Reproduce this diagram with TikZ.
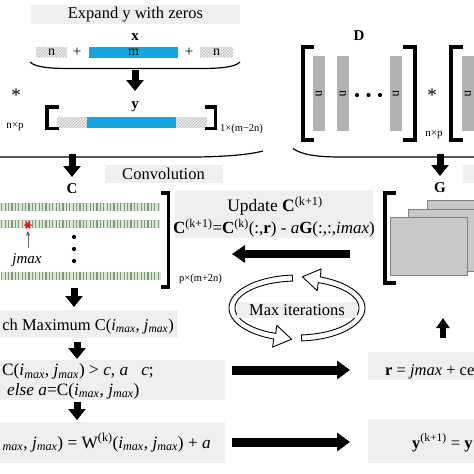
\documentclass[tikz,border=0pt]{standalone}
\usepackage{fontspec}
\setmainfont{Liberation Serif}
\usetikzlibrary{arrows.meta,patterns}
\definecolor{boxgray}{RGB}{239,239,239}
\definecolor{barblue}{RGB}{20,165,222}
\definecolor{hatchbg}{RGB}{236,236,236}
\definecolor{colgray}{RGB}{178,178,178}
\definecolor{ggray}{RGB}{200,200,200}
\definecolor{gedge}{RGB}{130,130,130}
\definecolor{rowbg}{RGB}{218,232,211}
\definecolor{rowstripe}{RGB}{128,152,128}
\newcommand\myfs[1]{\fontsize{#1}{#1}\selectfont}
\begin{document}
\begin{tikzpicture}[x=1pt,y=-1pt,
  gbox/.style={fill=boxgray, draw=none, inner sep=0pt},
  txt/.style={font=\myfs{16.5}, inner sep=0pt},
  btxt/.style={font=\myfs{17.3}, inner sep=0pt},
  mlab/.style={font=\myfs{15}\bfseries, inner sep=0pt},
  small/.style={font=\myfs{10.5}, inner sep=0pt},
  hatchbox/.style={preaction={fill=hatchbg}, pattern=north east lines, pattern color=gray!55, inner sep=0pt, font=\myfs{14}},
  bluebox/.style={fill=barblue, inner sep=0pt, font=\myfs{14}},
  colbox/.style={fill=colgray, inner sep=0pt, font=\myfs{13}, rotate=-90},
  gsheet/.style={fill=ggray, draw=gedge, line width=0.8pt},
  brk/.style={line width=3.5pt, line cap=butt, line join=miter},
  brace/.style={line width=1.2pt},
  blk/.style={line width=7pt, -{Triangle[length=11pt,width=17pt]}},
  bigarr/.style={line width=9pt, -{Triangle[length=13pt,width=18pt]}},
  ring/.style={fill=white, draw=black, line width=0.9pt, line join=round},
  rowbar/.style={fill=rowbg, draw=none, inner sep=0pt, minimum width=160pt, minimum height=8.5pt}
]
\useasboundingbox (0,0) rectangle (474,474);
\clip (0,0) rectangle (474,474);

% ---------- top left: expand y ----------
\node[gbox, minimum width=209pt, minimum height=19pt, font=\myfs{16.5}] (expand) at (135.5,14.5) {Expand y with zeros};
\node[mlab] (xlab) at (135,37) {x};
\node[hatchbox, minimum width=31pt, minimum height=10pt] (xn1) at (51.5,52) {n};
\node[txt, font=\myfs{15}] (plus1) at (77,52) {+};
\node[bluebox, minimum width=89pt, minimum height=11pt] (xm) at (133.5,52.5) {m};
\node[txt, font=\myfs{15}] (plus2) at (189,52) {+};
\node[hatchbox, minimum width=33pt, minimum height=10pt] (xn2) at (216.5,52) {n};
\draw[brace] (30,62) .. controls (35,67) and (48,68.5) .. (70,68.5) -- (200,68.5) .. controls (222,68.5) and (235,67) .. (240,62);
\coordinate (a1s) at (135,70); \coordinate (a1e) at (135,91);
\draw[blk] (a1s) -- (a1e);

\node[txt, font=\myfs{19}] (ast1) at (16,95) {*};
\node[txt, font=\myfs{11}] (np1) at (15,127) {n×p};

\node[mlab] (ylab) at (135,107) {y};
\node[hatchbox, minimum width=30pt, minimum height=10.5pt] (yh1) at (72,122.5) {};
\node[bluebox, minimum width=89pt, minimum height=10.5pt] (yb) at (131.5,122.5) {};
\node[hatchbox, minimum width=31pt, minimum height=10.5pt] (yh2) at (191.5,122.5) {};
\draw[brk] (59,107) -- (47,107) -- (47,128.5) -- (59,128.5);
\draw[brk] (205,107) -- (215.5,107) -- (215.5,128.5) -- (205,128.5);
\node[small, anchor=west] (dim1) at (220,129) {1×(m−2n)};

% ---------- top right: D ----------
\node[mlab] (dlab) at (359,36) {D};
\draw[brk] (314,47) -- (303,47) -- (303,140) -- (314,140);
\node[colbox, minimum width=75pt, minimum height=12pt] (d1) at (319,93.5) {n};
\node[colbox, minimum width=75pt, minimum height=12pt] (d2) at (343,93.5) {n};
\node[colbox, minimum width=75pt, minimum height=12pt] (d3) at (396,93.5) {n};
\fill (357,95) circle (2.1) (368.5,95) circle (2.1) (380,95) circle (2.1);
\draw[brk] (403,47) -- (415,47) -- (415,140) -- (403,140);
\node[txt, font=\myfs{19}] (ast2) at (432,95) {*};
\node[txt, font=\myfs{11}] (np2) at (434,135) {n×p};
\draw[brk] (463,47) -- (451,47) -- (451,140) -- (463,140);
\node[colbox, minimum width=75pt, minimum height=12pt] (d4) at (468,93.5) {n};

% ---------- braces ----------
\draw[brace] (0,157) -- (190,157) .. controls (225,157) and (250,154.5) .. (263,151);
\draw[brace] (293,148.5) .. controls (300,153.5) and (312,157) .. (340,157) -- (474,157);

\coordinate (a2s) at (72,154); \coordinate (a2e) at (72,177);
\draw[blk] (a2s) -- (a2e);
\coordinate (a3s) at (440,154); \coordinate (a3e) at (440,176);
\draw[blk] (a3s) -- (a3e);

\node[gbox, minimum width=118pt, minimum height=18pt, font=\myfs{16.5}] (conv) at (163.5,174) {Convolution};
\node[gbox, minimum width=18pt, minimum height=18pt] (rbox) at (472,174) {};
\node[mlab] (clab) at (72,188.5) {C};
\node[mlab] (glab) at (440,187.5) {G};

% ---------- C matrix ----------
\node[rowbar] (row1) at (80,207) {};
\node[rowbar] (row2) at (80,224) {};
\node[rowbar] (row3) at (80.5,276) {};
\foreach \ya/\yb in {202.75/211.25, 219.75/228.25, 271.75/280.25}{
  \foreach \k in {0,...,46}{
    \draw[rowstripe, line width=1.2pt] ({1.8+3.4*\k},\ya) -- ({1.8+3.4*\k},\yb);
  }
}
\fill[red!85!white] (28,225) circle (2.4);
\draw[red, line width=1pt] (24,225) -- (32,225) (26,221.5) -- (30,228.5) (26,228.5) -- (30,221.5);
\coordinate (js) at (28,248); \coordinate (je) at (28,231);
\draw[-{Stealth[length=5pt,width=4.5pt]}, black!60, line width=0.9pt] (js) -- (je);
\node[txt, font=\myfs{15}\itshape] (jmax) at (27,260) {jmax};
\fill (74,237) circle (2.1) (74,249) circle (2.1) (74,261) circle (2.1);
\draw[brk] (161,193) -- (168.5,193) -- (168.5,287) -- (161,287);
\node[small, anchor=west] (dim2) at (179,279) {p×(m+2n)};
\coordinate (a4s) at (74,288); \coordinate (a4e) at (74,307);
\draw[blk] (a4s) -- (a4e);

% ---------- update box ----------
\node[gbox, minimum width=198pt, minimum height=48pt] (upd) at (274,214) {};
\node[txt, font=\myfs{17.5}] (updt1) at (275,206) {Update \textbf{C}\textsuperscript{(k+1)}};
\node[txt, font=\myfs{17}] (updt2) at (274,228) {\textbf{C}\textsuperscript{(k+1)}=\textbf{C}\textsuperscript{(k)}(:,\textbf{r}) - \textit{a}\textbf{G}(:,:,\textit{imax})};
\coordinate (lar) at (350,254); \coordinate (lal) at (232,254);
\draw[line width=8pt, -{Triangle[length=13pt,width=17pt]}] (lar) -- (lal);

% ---------- G stack ----------
\draw[brk] (396,193) -- (385,193) -- (385,283) -- (396,283);
\draw[gsheet] (427,200) rectangle (480,267);
\draw[gsheet] (408,209) rectangle (480,271);
\draw[gsheet] (390,217) rectangle (467,275);

% ---------- max iterations loop ----------
\draw[ring] plot[domain=94:250, samples=50, smooth] ({297+68*cos(\x)},{308-33*sin(\x)})
   -- (272.6,347.1) -- (291.5,339.2) -- (276.8,325.3)
   -- plot[domain=250:94, samples=50, smooth] ({297+62*cos(\x)},{308-27*sin(\x)}) -- cycle;
\draw[ring] plot[domain=-86:70, samples=50, smooth] ({297+68*cos(\x)},{308-33*sin(\x)})
   -- (321.2,268.9) -- (302.4,276.8) -- (317.2,290.7)
   -- plot[domain=70:-86, samples=50, smooth] ({297+62*cos(\x)},{308-27*sin(\x)}) -- cycle;
\node[gbox, minimum width=120pt, minimum height=16pt, font=\myfs{16.5}] (maxit) at (297,310) {Max iterations};

% ---------- bottom left boxes ----------
\node[gbox, minimum width=178pt, minimum height=28pt] (b1) at (89,324) {};
\node[txt, anchor=base east] (b1t) at (174,330) {ch Maximum C(\textit{i}\textsubscript{\textit{max}}, \textit{j}\textsubscript{\textit{max}})};
\coordinate (a5s) at (77,342); \coordinate (a5e) at (77,359);
\draw[blk] (a5s) -- (a5e);
\node[gbox, minimum width=225pt, minimum height=40pt] (b2) at (112.5,380) {};
\node[btxt, anchor=base west] (b2t1) at (2,375.5) {C(\textit{i}\textsubscript{\textit{max}}, \textit{j}\textsubscript{\textit{max}}) > \textit{c}, \textit{a}\hspace{13pt}\textit{c};};
\node[btxt, anchor=base west] (b2t2) at (7,395) {\textit{else a}=C(\textit{i}\textsubscript{\textit{max}}, \textit{j}\textsubscript{\textit{max}})};
\coordinate (a6s) at (77,402); \coordinate (a6e) at (77,420);
\draw[blk] (a6s) -- (a6e);
\node[gbox, minimum width=225pt, minimum height=41pt] (b3) at (112.5,442.5) {};
\node[btxt, anchor=base east] (b3t) at (211,448) {\textsubscript{\textit{max}}, \textit{j}\textsubscript{\textit{max}}) = W\textsuperscript{(k)}(\textit{i}\textsubscript{\textit{max}}, \textit{j}\textsubscript{\textit{max}}) + \textit{a}};

% ---------- right arrows and boxes ----------
\coordinate (r1s) at (232,370); \coordinate (r1e) at (350,370);
\draw[bigarr] (r1s) -- (r1e);
\coordinate (r2s) at (232,442); \coordinate (r2e) at (350,442);
\draw[bigarr] (r2s) -- (r2e);
\coordinate (us) at (443,338); \coordinate (ue) at (443,318);
\draw[line width=5.5pt, -{Triangle[length=10pt,width=13pt]}] (us) -- (ue);
\node[gbox, minimum width=112pt, minimum height=28pt] (rb) at (424,366) {};
\node[txt, anchor=base west] (rbt) at (385,375) {\textbf{r} = \textit{jmax} + ce};
\node[gbox, minimum width=112pt, minimum height=44pt] (yb2) at (424,441) {};
\node[txt, anchor=base west] (ybt) at (412,448) {\textbf{y}\textsuperscript{(k+1)} = \textbf{y}};
\end{tikzpicture}
\end{document}
